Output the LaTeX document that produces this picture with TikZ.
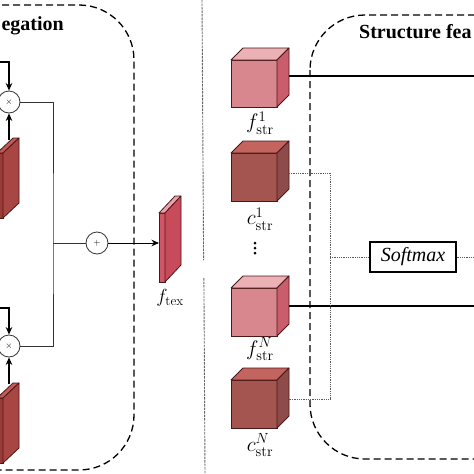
\RequirePackage{fix-cm}
\documentclass[tikz,border=0pt]{standalone}
\usepackage{fontspec}
\newfontfamily\tnr{Liberation Serif}
\usetikzlibrary{arrows.meta,calc}
\definecolor{slF}{HTML}{9C3A38}
\definecolor{slT}{HTML}{C25A58}
\definecolor{slS}{HTML}{A84644}
\definecolor{txF}{HTML}{D25566}
\definecolor{txT}{HTML}{EBA3AB}
\definecolor{txS}{HTML}{C84B5C}
\definecolor{fcF}{HTML}{D8878E}
\definecolor{fcT}{HTML}{EBB1B5}
\definecolor{fcS}{HTML}{C95D6B}
\definecolor{ccF}{HTML}{A5554F}
\definecolor{ccT}{HTML}{C4645F}
\definecolor{ccS}{HTML}{8D4B49}
\definecolor{edgeC}{HTML}{4A1818}
\newcommand{\mkblock}[8]{%
  \node[boxface, fill=#8F, minimum width=#4pt, minimum height=#5pt] (#1) at (#2,#3) {};
  \filldraw[boxedge, fill=#8T] (#1.north west) -- (#1.north east) -- ++(#6,#7) -- ++(-#4,0) -- cycle;
  \filldraw[boxedge, fill=#8S] (#1.north east) -- ++(#6,#7) -- ++(0,#5) -- (#1.south east) -- cycle;
}
\begin{document}
\begin{tikzpicture}[x=1pt,y=-1pt,
  boxface/.style={draw=edgeC, line width=0.8pt, inner sep=0pt, outer sep=0pt},
  boxedge/.style={draw=edgeC, line width=0.8pt, line join=round},
  conn/.style={draw=black!80, line width=0.9pt},
  arr/.style={draw=black, line width=1.4pt, -{Stealth[length=7.5pt,width=6.5pt]}},
  arrthin/.style={draw=black, line width=1pt, -{Stealth[length=7.5pt,width=6.5pt]}},
  opc/.style={circle, draw=black!80, line width=0.8pt, fill=white, minimum size=22pt, inner sep=0pt, font=\fontsize{9}{9}\selectfont},
  dbox/.style={draw=black, line width=1.3pt, dash pattern=on 7pt off 4pt, rounded corners=55pt},
  divider/.style={draw=black!60, line width=0.9pt, dash pattern=on 2.5pt off 1pt},
  dotline/.style={draw=black!65, line width=0.9pt, dash pattern=on 1pt off 0.8pt},
  solidline/.style={draw=black, line width=1.1pt},
  lab/.style={inner sep=0pt, font=\fontsize{19}{21}\selectfont},
  slab/.style={inner sep=0pt, font=\fontsize{21}{23}\selectfont},
  title/.style={inner sep=0pt, font=\tnr\bfseries\fontsize{20}{22}\selectfont},
  smbox/.style={draw=black, line width=1.1pt, minimum width=86pt, minimum height=30pt, inner sep=0pt, font=\tnr\itshape\fontsize{20}{22}\selectfont}]
\useasboundingbox (0,0) rectangle (474,474);
\fill[white] (0,0) rectangle (474,474);
\coordinate (RE) at (474,0);
% frames
\draw[dbox] (-70,5) rectangle (134,470);
\draw[dbox] (310,15) rectangle (545,459);
\draw[divider] (202,0) -- (203.6,260);
\draw[divider] (203.9,278) -- (205,474);
% titles
\node[title, anchor=base east] (tA) at (64,30) {egation};
\node[title, anchor=base west] (tB) at (359,38) {Structure fea};
% left branch blocks
\mkblock{blkA}{0}{185.5}{6}{65}{16}{-15}{sl}
\mkblock{blkB}{0}{430.5}{6}{65}{16}{-15}{sl}
\mkblock{ftex}{162}{247.5}{6}{69}{16}{-17}{tx}
\node[lab] (ltex) at (170,298) {$f_{\mathrm{tex}}$};
% operators
\node[opc] (mulA) at (9,102) {$\times$};
\node[opc] (mulB) at (9,346) {$\times$};
\node[opc] (plus) at (97,243) {$+$};
\coordinate (inA) at (0,62);
\coordinate (inB) at (0,308);
\coordinate (blkAtop) at ($(blkA.north)+(9,-13)$);
\coordinate (blkBtop) at ($(blkB.north)+(9,-14)$);
\coordinate (jn) at (53,243);
\draw[arr] (inA) -| (mulA);
\draw[arr] (blkAtop) -- (mulA);
\draw[arr] (inB) -| (mulB);
\draw[arr] (blkBtop) -- (mulB);
\draw[conn] (mulA) -| (jn) |- (mulB);
\draw[conn] (jn) -- (plus);
\draw[arrthin] (plus) -- (plus -| ftex.west);
% right cubes
\mkblock{fs1}{254}{83.5}{46}{47}{12}{-12}{fc}
\mkblock{cs1}{254}{177}{46}{48}{12}{-12}{cc}
\mkblock{fsN}{254}{312}{46}{48}{12}{-12}{fc}
\mkblock{csN}{254}{404}{46}{48}{12}{-12}{cc}
\node[slab] (lf1) at (260,123) {$f^{1}_{\mathrm{str}}$};
\node[slab] (lc1) at (260,219) {$c^{1}_{\mathrm{str}}$};
\node[slab] (lfN) at (260,349) {$f^{N}_{\mathrm{str}}$};
\node[slab] (lcN) at (260,445) {$c^{N}_{\mathrm{str}}$};
\fill[black] (255,243) circle (1.5pt) (255,248) circle (1.5pt) (255,253) circle (1.5pt);
% connectors right
\node[smbox] (sm) at (413,257) {Softmax};
\coordinate (f1o) at ($(fs1.east)+(12,-7.5)$);
\coordinate (fNo) at ($(fsN.east)+(12,-6)$);
\coordinate (c1o) at ($(cs1.east)+(12,-4)$);
\coordinate (cNo) at ($(csN.east)+(12,-5)$);
\coordinate (jx) at (330,0);
\draw[solidline] (f1o) -- (f1o -| RE);
\draw[solidline] (fNo) -- (fNo -| RE);
\draw[dotline] (c1o) -- (c1o -| jx) -- (cNo -| jx) -- (cNo);
\draw[dotline] (sm.west -| jx) -- (sm.west);
\draw[dotline] (sm.east) -- (sm.east -| RE);
\end{tikzpicture}
\end{document}
